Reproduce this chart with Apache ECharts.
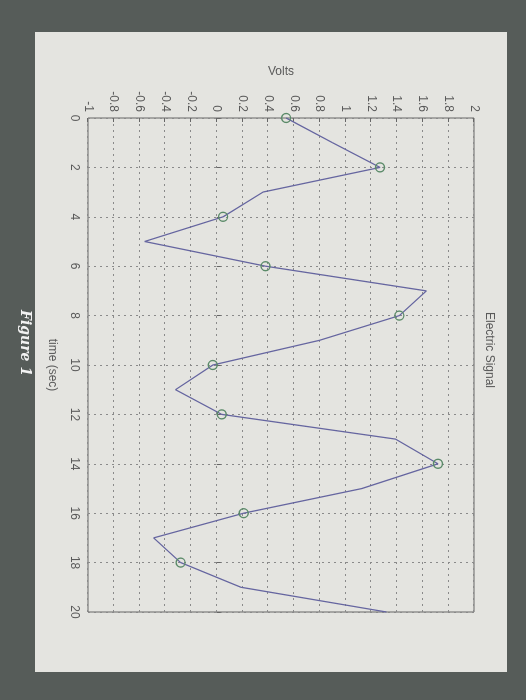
<!DOCTYPE html>
<html>
<head>
<meta charset="utf-8">
<script src="https://cdn.jsdelivr.net/npm/echarts@6/dist/echarts.min.js"></script>
<style>
  html, body { margin: 0; padding: 0; background: #565c59; overflow: hidden; }
  #chart { position: absolute; left: 526px; top: 0; width: 700px; height: 526px;
           transform: rotate(90deg); transform-origin: 0 0; }
</style>
</head>
<body>
<div id="chart"></div>
<script>
// time in seconds
var times = [0, 1, 2, 3, 4, 5, 6, 7, 8, 9, 10, 11, 12, 13, 14, 15, 16, 17, 18, 19, 20];
// signal in volts
var volts = [0.54, 0.9, 1.27, 0.36, 0.05, -0.56, 0.38, 1.63, 1.42, 0.8, -0.03, -0.32, 0.04, 1.39, 1.72, 1.13, 0.21, -0.49, -0.28, 0.19, 1.32];
// sampled points that get a circle
var markTimes = [0, 2, 4, 6, 8, 10, 12, 14, 16, 18];

var lineData = times.map(function (t, i) { return [t, volts[i]]; });
var markData = markTimes.map(function (t) { return [t, volts[times.indexOf(t)]]; });

var myChart = echarts.init(document.getElementById('chart'));
var txt = '#5a5a5a';
myChart.setOption({
    backgroundColor: 'transparent',
    animation: false,
    textStyle: { fontFamily: 'Liberation Sans, Arial, sans-serif' },
    graphic: [
        { type: 'rect', z: -10, shape: { x: 32, y: 19, width: 640, height: 472 },
          style: { fill: '#e4e4e0' } },
        { type: 'text', left: 310, top: 494,
          style: { text: 'Figure 1', fill: '#f2f2f2', font: 'italic bold 14px "DejaVu Serif", serif' } }
    ],
    title: {
        text: 'Electric Signal', left: 'center', top: 26,
        textStyle: { fontSize: 12, fontWeight: 'normal', color: txt }
    },
    grid: { left: 118, right: 88, top: 52, bottom: 88, show: true, borderColor: '#666', borderWidth: 1 },
    xAxis: {
        type: 'value', min: 0, max: 20, interval: 2,
        name: 'time (sec)', nameLocation: 'middle', nameGap: 30,
        nameTextStyle: { color: txt, fontSize: 12 },
        axisLine: { show: false },
        axisTick: { inside: true, length: 4, lineStyle: { color: '#666' } },
        axisLabel: { color: txt, fontSize: 12, margin: 8 },
        splitLine: { lineStyle: { type: [2, 4], color: '#8a8a8a', width: 1 } }
    },
    yAxis: {
        type: 'value', min: -1, max: 2, interval: 0.2,
        name: 'Volts', nameLocation: 'middle', nameGap: 40, nameRotate: 90,
        nameTextStyle: { color: txt, fontSize: 12 },
        axisLine: { show: false },
        axisTick: { inside: true, length: 4, lineStyle: { color: '#666' } },
        axisLabel: { color: txt, fontSize: 12, margin: 6,
            formatter: function (v) { return parseFloat(v.toFixed(1)).toString(); } },
        splitLine: { lineStyle: { type: [2, 4], color: '#8a8a8a', width: 1 } }
    },
    series: [
        {
            type: 'line', data: lineData, showSymbol: false,
            lineStyle: { color: '#6666a0', width: 1.3 }, z: 2
        },
        {
            type: 'scatter', data: markData, symbol: 'circle', symbolSize: 9, z: 3,
            itemStyle: { color: 'rgba(0,0,0,0)', borderColor: '#5a8a68', borderWidth: 1.4, opacity: 1 }
        }
    ]
});
</script>
</body>
</html>
